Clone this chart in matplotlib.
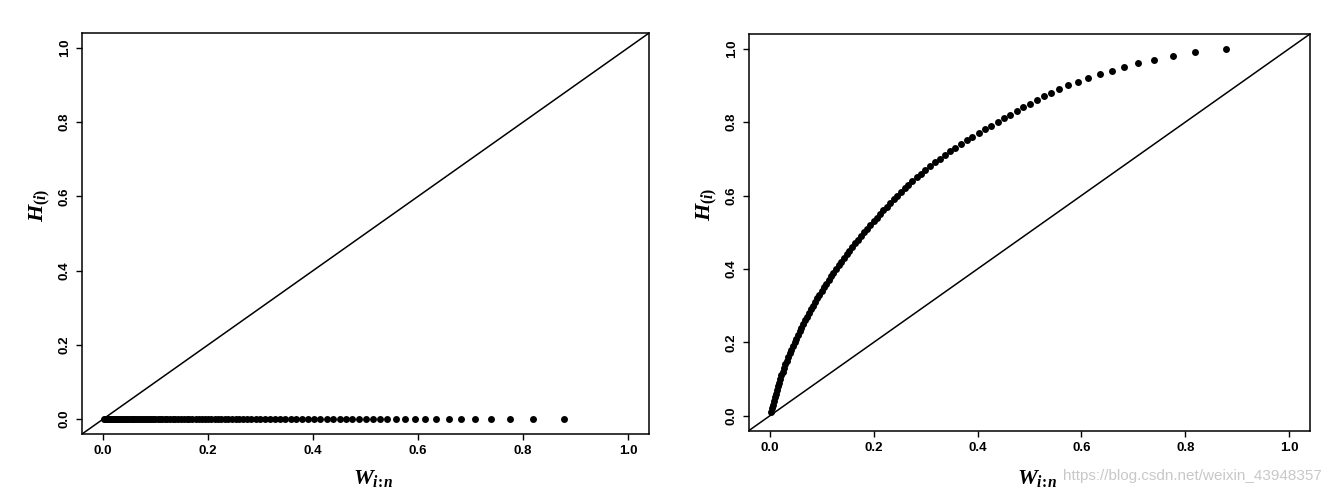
import matplotlib
matplotlib.use("Agg")
import matplotlib.pyplot as plt

plt.rcParams["font.family"] = ["Liberation Sans", "DejaVu Sans"]
plt.rcParams["mathtext.fontset"] = "custom"
plt.rcParams["mathtext.it"] = "Liberation Serif:italic:bold"
plt.rcParams["mathtext.rm"] = "Liberation Serif:bold"

# order statistics W_{i:n}
w_values = [
    0.0018, 0.0037, 0.0056, 0.0075, 0.0095, 0.0115, 0.0136, 0.0157, 0.0178, 0.0200,
    0.0223, 0.0247, 0.0272, 0.0298, 0.0325, 0.0353, 0.0382, 0.0413, 0.0446, 0.0480,
    0.0511, 0.0543, 0.0576, 0.0610, 0.0645, 0.0680, 0.0716, 0.0753, 0.0791, 0.0830,
    0.0870, 0.0911, 0.0953, 0.0996, 0.1040, 0.1085, 0.1131, 0.1178, 0.1226, 0.1275,
    0.1325, 0.1376, 0.1428, 0.1481, 0.1535, 0.1590, 0.1646, 0.1703, 0.1761, 0.1820,
    0.1879, 0.1939, 0.2000, 0.2062, 0.2125, 0.2189, 0.2254, 0.2320, 0.2387, 0.2455,
    0.2523, 0.2594, 0.2668, 0.2745, 0.2825, 0.2908, 0.2994, 0.3083, 0.3175, 0.3270,
    0.3368, 0.3469, 0.3573, 0.3680, 0.3790, 0.3903, 0.4019, 0.4138, 0.4260, 0.4385,
    0.4505, 0.4627, 0.4751, 0.4877, 0.5005, 0.5136, 0.5270, 0.5415, 0.5575, 0.5750,
    0.5935, 0.6135, 0.6350, 0.6580, 0.6825, 0.7090, 0.7395, 0.7760, 0.8195, 0.8780,
]

# left panel: H_(i) all zero
h_left = [0.0] * 100

# right panel: H_(i)
h_right = [
    0.01, 0.02, 0.03, 0.04, 0.05, 0.06, 0.07, 0.08, 0.09, 0.10,
    0.11, 0.12, 0.13, 0.14, 0.15, 0.16, 0.17, 0.18, 0.19, 0.20,
    0.21, 0.22, 0.23, 0.24, 0.25, 0.26, 0.27, 0.28, 0.29, 0.30,
    0.31, 0.32, 0.33, 0.34, 0.35, 0.36, 0.37, 0.38, 0.39, 0.40,
    0.41, 0.42, 0.43, 0.44, 0.45, 0.46, 0.47, 0.48, 0.49, 0.50,
    0.51, 0.52, 0.53, 0.54, 0.55, 0.56, 0.57, 0.58, 0.59, 0.60,
    0.61, 0.62, 0.63, 0.64, 0.65, 0.66, 0.67, 0.68, 0.69, 0.70,
    0.71, 0.72, 0.73, 0.74, 0.75, 0.76, 0.77, 0.78, 0.79, 0.80,
    0.81, 0.82, 0.83, 0.84, 0.85, 0.86, 0.87, 0.88, 0.89, 0.90,
    0.91, 0.92, 0.93, 0.94, 0.95, 0.96, 0.97, 0.98, 0.99, 1.00,
]

ticks = [0.0, 0.2, 0.4, 0.6, 0.8, 1.0]
tick_labels = ["0.0", "0.2", "0.4", "0.6", "0.8", "1.0"]


def draw_panel(ax, xs, ys, xlab_y):
    ax.plot(xs, ys, linestyle="none", marker="o", markersize=5.0,
            color="black", markeredgewidth=0)
    ax.axline((0, 0), slope=1, color="black", linewidth=1.1)
    ax.set_xlim(-0.04, 1.04)
    ax.set_ylim(-0.04, 1.04)
    ax.set_xticks(ticks)
    ax.set_yticks(ticks)
    ax.set_xticklabels(tick_labels, fontsize=9.5, fontweight="bold")
    ax.set_yticklabels(tick_labels, fontsize=9.5, fontweight="bold",
                       rotation=90, va="center")
    ax.tick_params(direction="out", length=4, width=1.0, pad=4)
    for sp in ax.spines.values():
        sp.set_linewidth(1.1)
    ax.set_xlabel(r"$W_{i\!:\!n}$", fontsize=16, va="center")
    ax.set_ylabel(r"$H_{(i)}$", fontsize=16, va="center")
    ax.xaxis.set_label_coords(0.513, xlab_y)
    ax.yaxis.set_label_coords(-0.075, 0.57)


fig = plt.figure(figsize=(13.43, 4.94), dpi=100)
ax1 = fig.add_axes([0.0611, 0.1215, 0.4222, 0.8117])
ax2 = fig.add_axes([0.5577, 0.1285, 0.4177, 0.8027])

draw_panel(ax1, w_values, h_left, -0.112)
draw_panel(ax2, w_values, h_right, -0.122)

fig.text(0.7915, 0.036, "https://blog.csdn.net/weixin_43948357",
         fontsize=11, color="#c8c8c8", ha="left", va="center")

fig.savefig("out.png", dpi=100)
